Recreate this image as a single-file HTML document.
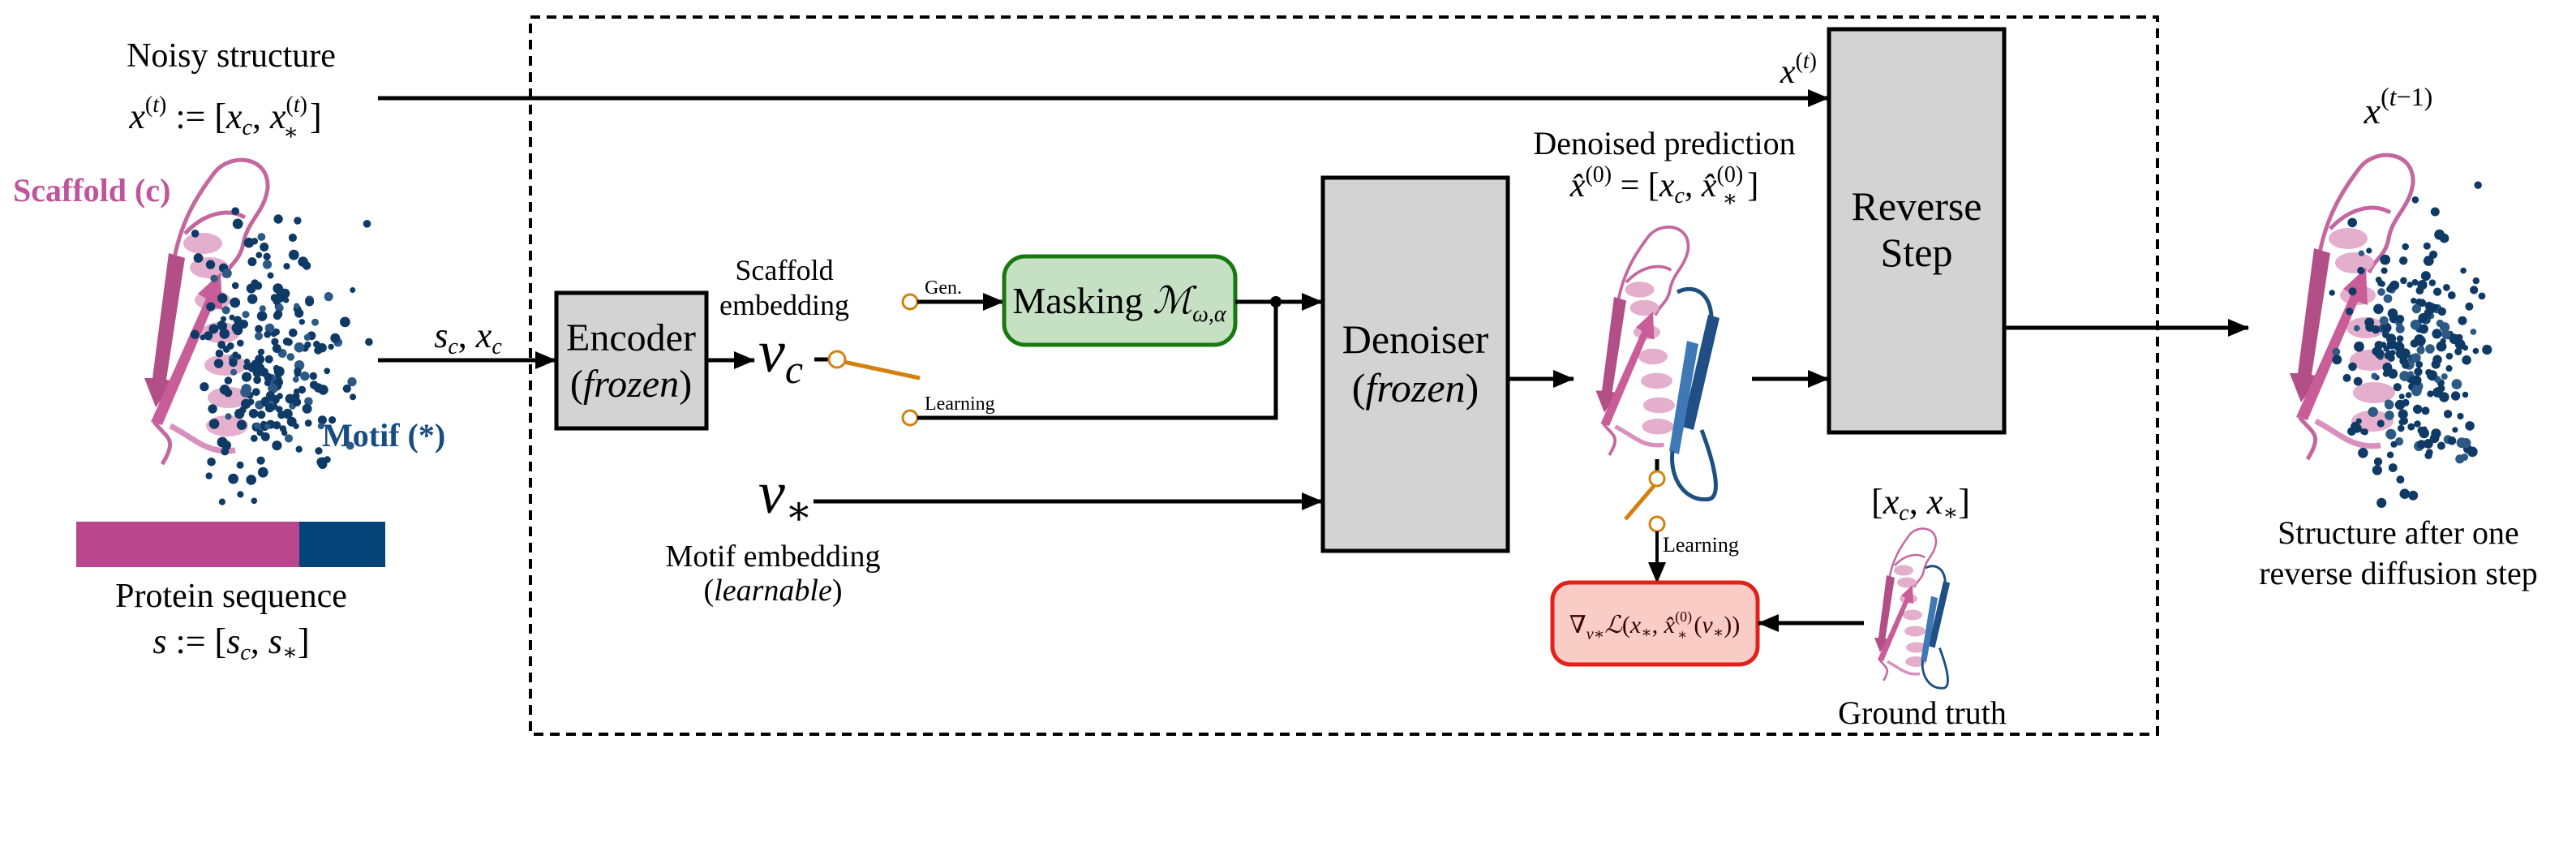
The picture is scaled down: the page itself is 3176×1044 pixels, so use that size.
<!DOCTYPE html>
<html><head><meta charset="utf-8"><style>
html,body{margin:0;padding:0;background:#fff;width:3176px;height:1044px;overflow:hidden}
svg{display:block}
text{font-family:"Liberation Serif","DejaVu Serif","Times New Roman",serif;fill:#000}
.it{font-style:italic}
</style></head><body>
<svg id="s" width="3176" height="1044" viewBox="0 0 3176 1044" xmlns="http://www.w3.org/2000/svg">
<defs>
<marker id="ah" markerWidth="26" markerHeight="22" refX="25" refY="11" orient="auto" markerUnits="userSpaceOnUse" viewBox="0 0 26 22"><path d="M0,0 L26,11 L0,22 z" fill="#000"/></marker>
<g id="pink">
 <path d="M215,318 C225,265 250,232 265,212 C285,188 332,192 330,232 C326,262 305,272 300,300 C296,322 282,326 276,342" fill="none" stroke="#c4679f" stroke-width="5"/>
 <path d="M228,288 C252,262 282,256 302,268" fill="none" stroke="#c4679f" stroke-width="5"/>
 <g fill="#e2a6c8" opacity="0.9">
  <ellipse cx="250" cy="300" rx="24" ry="13"/><ellipse cx="258" cy="330" rx="24" ry="13"/>
  <ellipse cx="262" cy="370" rx="22" ry="12"/><ellipse cx="272" cy="410" rx="24" ry="13"/>
  <ellipse cx="278" cy="450" rx="26" ry="13"/><ellipse cx="282" cy="490" rx="26" ry="13"/>
  <ellipse cx="280" cy="525" rx="26" ry="13"/>
 </g>
 <polygon points="208,312 228,318 205,468 215,470 192,502 178,466 188,466" fill="#b24f86"/>
 <polygon points="186,520 200,524 262,378 274,382 272,336 244,362 254,368" fill="#c85d97"/>
 <path d="M190,520 C205,540 220,540 200,572" fill="none" stroke="#c4679f" stroke-width="5"/>
 <path d="M210,525 C240,540 255,560 290,555" fill="none" stroke="#d890bd" stroke-width="7"/>
</g>
<g id="blue">
 <path d="M0,0 C20,-10 40,0 42,30" fill="none" stroke="#1d4f80" stroke-width="5"/>
 <polygon points="38,28 52,32 20,170 6,166" fill="#1f4f85"/>
 <polygon points="12,60 26,64 2,200 -10,196" fill="#3f79b5"/>
 <path d="M-6,196 C-10,230 10,260 40,255 C55,250 45,210 30,170" fill="none" stroke="#1d4f80" stroke-width="5"/>
</g>
</defs>

<rect x="654" y="21" width="2006" height="884" fill="none" stroke="#000" stroke-width="4" stroke-dasharray="12,8"/>

<text x="285" y="82" font-size="42" text-anchor="middle">Noisy structure</text>
<text x="278" y="158" font-size="44" text-anchor="middle"><tspan class="it">x</tspan><tspan font-size="28" dy="-20">(<tspan class="it">t</tspan>)</tspan><tspan dy="20"> := [</tspan><tspan class="it">x</tspan><tspan class="it" font-size="28" dy="8">c</tspan><tspan dy="-8">, </tspan><tspan class="it">x</tspan><tspan font-size="28" dy="-20">(<tspan class="it">t</tspan>)</tspan><tspan font-size="28" dx="-30" dy="34">∗</tspan><tspan dy="-14" dx="14">]</tspan></text>
<text x="16" y="248" font-size="40" font-weight="bold" style="fill:#c0539a">Scaffold (c)</text>
<text x="397" y="550" font-size="40" font-weight="bold" style="fill:#164c82">Motif (*)</text>
<rect x="94" y="643" width="275" height="56" fill="#b8478e"/>
<rect x="369" y="643" width="106" height="56" fill="#044479"/>
<text x="285" y="748" font-size="42" text-anchor="middle">Protein sequence</text>
<text x="285" y="805" font-size="44" text-anchor="middle"><tspan class="it">s</tspan> := [<tspan class="it">s</tspan><tspan class="it" font-size="28" dy="8">c</tspan><tspan dy="-8">, </tspan><tspan class="it">s</tspan><tspan font-size="28" dy="8">∗</tspan><tspan dy="-8">]</tspan></text>

<use href="#pink"/>
<g id="dotsL"></g>

<line x1="466" y1="121" x2="2254" y2="121" stroke="#000" stroke-width="5" marker-end="url(#ah)"/>
<text x="2240" y="102" font-size="42" text-anchor="end"><tspan class="it">x</tspan><tspan font-size="28" dy="-18">(<tspan class="it">t</tspan>)</tspan></text>

<line x1="466" y1="444" x2="685" y2="444" stroke="#000" stroke-width="5" marker-end="url(#ah)"/>
<text x="577" y="428" font-size="44" text-anchor="middle"><tspan class="it">s</tspan><tspan class="it" font-size="28" dy="8">c</tspan><tspan dy="-8">, </tspan><tspan class="it">x</tspan><tspan class="it" font-size="28" dy="8">c</tspan></text>

<rect x="686" y="361" width="185" height="167" fill="#d3d3d3" stroke="#000" stroke-width="5"/>
<text x="778" y="432" font-size="48" text-anchor="middle">Encoder</text>
<text x="778" y="489" font-size="48" text-anchor="middle">(<tspan class="it">frozen</tspan>)</text>
<line x1="871" y1="444" x2="930" y2="444" stroke="#000" stroke-width="5" marker-end="url(#ah)"/>
<text x="967" y="345" font-size="36" text-anchor="middle">Scaffold</text>
<text x="967" y="388" font-size="36" text-anchor="middle">embedding</text>
<text x="935" y="458" font-size="74" class="it">v<tspan font-size="50" dy="14">c</tspan></text>

<line x1="1004" y1="443" x2="1022" y2="443" stroke="#000" stroke-width="5"/>
<line x1="1040" y1="446" x2="1134" y2="466" stroke="#d4800f" stroke-width="5"/>
<circle cx="1032" cy="443" r="10" fill="#fff" stroke="#d4800f" stroke-width="3"/>
<circle cx="1122" cy="372" r="9" fill="#fff" stroke="#d4800f" stroke-width="3"/>
<circle cx="1122" cy="515" r="9" fill="#fff" stroke="#d4800f" stroke-width="3"/>
<text x="1140" y="362" font-size="24">Gen.</text>
<text x="1140" y="505" font-size="24">Learning</text>
<line x1="1131" y1="372" x2="1237" y2="372" stroke="#000" stroke-width="5" marker-end="url(#ah)"/>
<polyline points="1131,515 1573,515 1573,372" fill="none" stroke="#000" stroke-width="5"/>

<rect x="1238" y="316" width="285" height="109" rx="26" fill="#c6e0c3" stroke="#17780f" stroke-width="5"/>
<text x="1380" y="386" font-size="46" text-anchor="middle">Masking <tspan class="it">ℳ</tspan><tspan class="it" font-size="28" dy="10">ω,α</tspan></text>
<line x1="1523" y1="372" x2="1630" y2="372" stroke="#000" stroke-width="5" marker-end="url(#ah)"/>
<circle cx="1573" cy="372" r="7" fill="#000"/>

<text x="935" y="632" font-size="74" class="it">v<tspan font-size="50" dy="14" font-style="normal">∗</tspan></text>
<line x1="1003" y1="618" x2="1630" y2="618" stroke="#000" stroke-width="5" marker-end="url(#ah)"/>
<text x="953" y="698" font-size="38" text-anchor="middle">Motif embedding</text>
<text x="953" y="740" font-size="38" text-anchor="middle">(<tspan class="it">learnable</tspan>)</text>

<rect x="1631" y="219" width="228" height="460" fill="#d3d3d3" stroke="#000" stroke-width="5"/>
<text x="1745" y="435" font-size="50" text-anchor="middle">Denoiser</text>
<text x="1745" y="495" font-size="50" text-anchor="middle">(<tspan class="it">frozen</tspan>)</text>
<line x1="1859" y1="467" x2="1940" y2="467" stroke="#000" stroke-width="5" marker-end="url(#ah)"/>

<text x="2052" y="190" font-size="40" text-anchor="middle">Denoised prediction</text>
<text x="2052" y="242" font-size="42" text-anchor="middle"><tspan class="it">x̂</tspan><tspan font-size="28" dy="-18">(0)</tspan><tspan dy="18"> = [</tspan><tspan class="it">x</tspan><tspan class="it" font-size="28" dy="8">c</tspan><tspan dy="-8">, </tspan><tspan class="it">x̂</tspan><tspan font-size="28" dy="-18">(0)</tspan><tspan font-size="28" dx="-26" dy="30">∗</tspan><tspan dy="-12" dx="12">]</tspan></text>
<g transform="translate(1834,132) scale(0.75)"><use href="#pink"/></g>
<g transform="translate(2068,360)"><use href="#blue"/></g>
<line x1="2160" y1="467" x2="2254" y2="467" stroke="#000" stroke-width="5" marker-end="url(#ah)"/>

<rect x="2255" y="36" width="216" height="497" fill="#d3d3d3" stroke="#000" stroke-width="5"/>
<text x="2363" y="271" font-size="50" text-anchor="middle">Reverse</text>
<text x="2363" y="328" font-size="50" text-anchor="middle">Step</text>
<line x1="2471" y1="404" x2="2772" y2="404" stroke="#000" stroke-width="5" marker-end="url(#ah)"/>

<line x1="2043" y1="566" x2="2043" y2="581" stroke="#000" stroke-width="5"/>
<line x1="2040" y1="598" x2="2004" y2="640" stroke="#d4800f" stroke-width="5"/>
<circle cx="2043" cy="590" r="9" fill="#fff" stroke="#d4800f" stroke-width="3"/>
<circle cx="2043" cy="646" r="9" fill="#fff" stroke="#d4800f" stroke-width="3"/>
<line x1="2043" y1="655" x2="2043" y2="718" stroke="#000" stroke-width="4" marker-end="url(#ah)"/>
<text x="2050" y="680" font-size="26">Learning</text>

<rect x="1914" y="718" width="253" height="101" rx="22" fill="#f9ccc6" stroke="#e2221a" stroke-width="5"/>
<text x="2040" y="780" font-size="30" text-anchor="middle" style="fill:#3a0000">∇<tspan class="it" font-size="20" dy="8">v∗</tspan><tspan dy="-8" class="it">ℒ</tspan>(<tspan class="it">x</tspan><tspan font-size="20" dy="6">∗</tspan><tspan dy="-6">, </tspan><tspan class="it">x̂</tspan><tspan font-size="18" dy="-14">(0)</tspan><tspan font-size="18" dx="-18" dy="22">∗</tspan><tspan dy="-8" dx="8">(</tspan><tspan class="it">v</tspan><tspan font-size="20" dy="6">∗</tspan><tspan dy="-6">))</tspan></text>
<line x1="2298" y1="768" x2="2168" y2="768" stroke="#000" stroke-width="5" marker-end="url(#ah)"/>

<text x="2368" y="633" font-size="44" text-anchor="middle">[<tspan class="it">x</tspan><tspan class="it" font-size="28" dy="8">c</tspan><tspan dy="-8">, </tspan><tspan class="it">x</tspan><tspan font-size="28" dy="8">∗</tspan><tspan dy="-8">]</tspan></text>
<g transform="translate(2222,553) scale(0.5)"><use href="#pink"/></g>
<g transform="translate(2374,700) scale(0.58)"><use href="#blue"/></g>
<text x="2370" y="892" font-size="40" text-anchor="middle">Ground truth</text>

<text x="2957" y="152" font-size="46" text-anchor="middle"><tspan class="it">x</tspan><tspan font-size="32" dy="-22">(<tspan class="it">t</tspan>−1)</tspan></text>
<g transform="translate(2645,-6)"><use href="#pink"/></g>
<g id="dotsR"></g>
<text x="2957" y="670" font-size="40" text-anchor="middle">Structure after one</text>
<text x="2957" y="720" font-size="40" text-anchor="middle">reverse diffusion step</text>
</svg>
<script>
(function(){
var seed=12345;function r(){seed=(seed*1103515245+12345)%2147483648;return seed/2147483648;}
function g(){var u=r()||1e-6,v=r();return Math.sqrt(-2*Math.log(u))*Math.cos(6.283*v);}
function fill(id,cx,cy,sx,sy,n,xmin,xmax,ymin,ymax){
 var el=document.getElementById(id),h='';
 for(var i=0;i<n;i++){var x=cx+g()*sx,y=cy+g()*sy;
  if(x<xmin||x>xmax||y<ymin||y>ymax){i--;continue;}
  var rr=3.5+r()*3;h+='<circle cx="'+x.toFixed(1)+'" cy="'+y.toFixed(1)+'" r="'+rr.toFixed(1)+'" fill="'+(r()<0.2?'#2c5a85':'#0f3a66')+'"/>';}
 el.innerHTML=h;}
fill('dotsL',330,445,45,85,230,240,465,250,625);
fill('dotsR',2975,440,45,80,230,2875,3100,220,620);
})();
</script>
</body></html>
